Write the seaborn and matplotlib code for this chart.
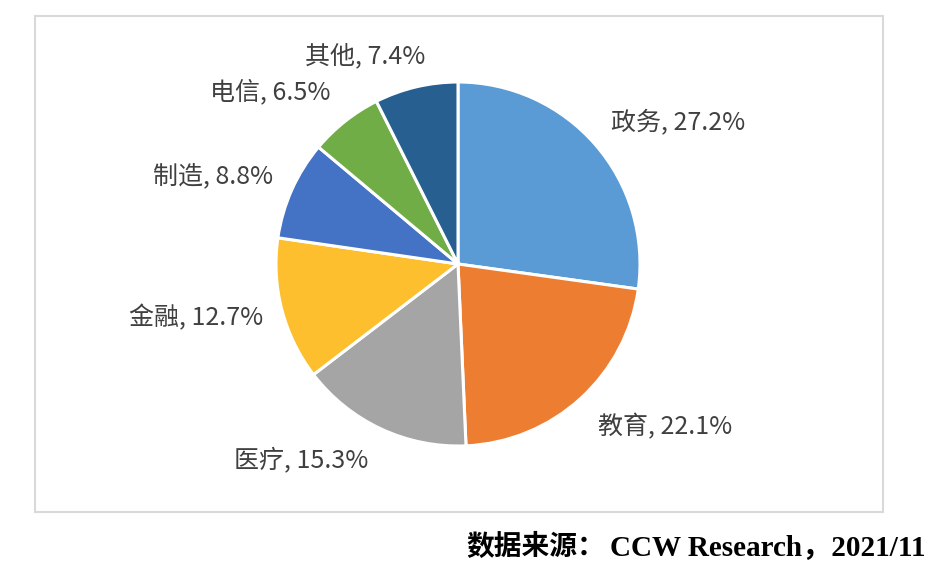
import matplotlib
matplotlib.use("Agg")
import matplotlib.pyplot as plt
import seaborn as sns
from matplotlib.patches import Rectangle

# ==========================================
# Data
# ==========================================

industries = ["政务", "教育", "医疗", "金融", "制造", "电信", "其他"]
shares = [27.2, 22.1, 15.3, 12.7, 8.8, 6.5, 7.4]
colors = ["#5B9BD5", "#ED7D31", "#A5A5A5", "#FDBF2D", "#4472C4", "#70AD47", "#275F90"]

source_cn = "数据来源："
source_en = "CCW Research，2021/11"

# label anchor points (pixel space, figure is 938x568)
label_pos = [(678, 122), (665, 427), (301, 460), (196, 318),
             (213, 176), (270, 92), (365, 56)]

# ==========================================
# Figure
# ==========================================

sns.set_theme(style="white")
plt.rcParams["font.family"] = ["Noto Sans CJK SC", "DejaVu Sans"]

fig = plt.figure(figsize=(9.38, 5.68), dpi=100)
ax = fig.add_axes([0, 0, 1, 1])

palette = sns.color_palette(colors)

# pie goes clockwise from 12 o'clock; y axis is flipped so counterclock=True
# looks clockwise on screen
ax.pie(
    shares,
    colors=palette,
    center=(458, 264),
    radius=182,
    startangle=-90,
    counterclock=True,
    wedgeprops=dict(edgecolor="white", linewidth=2.2),
    frame=True,
)
ax.set_xlim(0, 938)
ax.set_ylim(568, 0)
ax.set_aspect("equal")
ax.axis("off")

for name, val, (x, y) in zip(industries, shares, label_pos):
    ax.text(x, y, f"{name}, {val}%", ha="center", va="center",
            fontsize=18, color="#404040")

# chart border
ax.add_patch(Rectangle((35, 16), 848, 496, fill=False,
                       edgecolor="#D9D9D9", linewidth=1.5))

# source note: serif latin part, CJK bold sans part in front of it
t_en = ax.text(925, 548, source_en, ha="right", va="center",
               fontsize=21, fontweight="bold", color="black",
               family=["Liberation Serif", "Noto Sans CJK SC"])
fig.canvas.draw()
bb = t_en.get_window_extent()
x_left = bb.x0
t_cn = ax.text(0, 0, source_cn, ha="right", va="center",
               fontsize=20, fontweight="bold", color="black",
               family=["Noto Sans CJK SC"])
# place CJK part just left of the latin part
x_data, _ = ax.transData.inverted().transform((x_left, 0))
t_cn.set_position((x_data - 4, 547))

fig.savefig("out.png", dpi=100, facecolor="white")
